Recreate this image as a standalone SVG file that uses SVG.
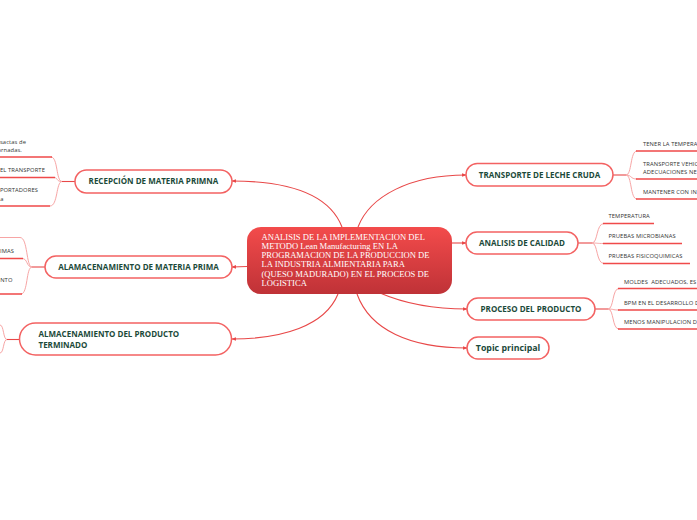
<svg xmlns="http://www.w3.org/2000/svg" width="697" height="520" viewBox="0 0 697 520">
<defs>
<linearGradient id="cg" x1="0" y1="0" x2="0" y2="1">
<stop offset="0" stop-color="#f34b4b"/>
<stop offset="1" stop-color="#bf3237"/>
</linearGradient>
<marker id="ar" viewBox="0 0 6 6" refX="5.5" refY="3" markerWidth="4" markerHeight="4" orient="auto">
<path d="M0,0.5 L6,3 L0,5.5 Z" fill="#e84848"/>
</marker>
<style>
.box{fill:#fff;stroke:#f36262;stroke-width:1.5}
.t{font-family:"Open Sans","Liberation Sans",sans-serif;font-weight:bold;font-size:8px;fill:#1c4a3a}
.s{font-family:"Open Sans","Liberation Sans",sans-serif;font-size:5.8px;fill:#333;letter-spacing:0.1px}
.ct{font-family:"Liberation Serif","DejaVu Serif",serif;font-size:8.6px;fill:#fff}
.m{fill:none;stroke:#e84848;stroke-width:1.1}
.c{fill:none;stroke:#f7a5a5;stroke-width:1}
.u{fill:none;stroke:#f04a4a;stroke-width:1.6}
</style>
</defs>
<rect width="697" height="520" fill="#fff"/>

<g id="connectors">
<path class="m" d="M342,227 C330,196 292,181 232,181" marker-end="url(#ar)"/>
<path class="m" d="M358,227 C370,196 410,175 466,175" marker-end="url(#ar)"/>
<path class="m" d="M247,266.5 L232,267" marker-end="url(#ar)"/>
<path class="m" d="M452,243 L466,243" marker-end="url(#ar)"/>
<path class="m" d="M338,294 C325,326 282,339 232,339" marker-end="url(#ar)"/>
<path class="m" d="M357,294 C370,330 410,348 467,348" marker-end="url(#ar)"/>
<path class="m" d="M380,293 C410,306 440,309 467,309" marker-end="url(#ar)"/>

<path class="m" d="M613,175 H626"/>
<path class="c" d="M626,175 C632,175 630,151 637,151"/>
<path class="c" d="M626,175 C632,175 630,179 637,179"/>
<path class="c" d="M626,175 C632,175 630,199 637,199"/>
<path class="u" d="M636,151 H697 M636,179 H697 M636,199 H697"/>

<path class="m" d="M578,243 H592"/>
<path class="c" d="M592,243 C598,243 596,223.5 604,223.5"/>
<path class="c" d="M592,243 C598,243 596,243.5 604,243.5"/>
<path class="c" d="M592,243 C598,243 596,263.5 604,263.5"/>
<path class="u" d="M603,223.5 H654 M603,243.5 H682 M603,263.5 H690"/>

<path class="m" d="M595,309 H608"/>
<path class="c" d="M608,309 C614,309 612,288.5 619,288.5"/>
<path class="c" d="M608,309 C614,309 612,310 619,310"/>
<path class="c" d="M608,309 C614,309 612,329 619,329"/>
<path class="u" d="M618,288.5 H697 M618,310 H697 M618,329 H697"/>

<path class="m" d="M75,181.5 H62"/>
<path class="c" d="M62,181.5 C56,181.5 58,157 51,157"/>
<path class="c" d="M62,181.5 C56,181.5 58,177.5 54,177.5"/>
<path class="c" d="M62,181.5 C56,181.5 58,206 50,206"/>
<path class="u" d="M0,157 H52 M0,177.5 H55 M0,206 H50"/>

<path class="m" d="M45,267 H32"/>
<path class="c" d="M32,267 C26,267 28,237.5 20,237.5 H0"/>
<path class="c" d="M32,267 C26,267 28,258.5 22,258.5"/>
<path class="c" d="M32,267 C26,267 28,294 21,294"/>
<path class="u" d="M0,258.5 H23 M0,294 H22"/>

<path class="m" d="M19,339.5 H7"/>
<path class="c" d="M7,339.5 C3,339.5 4,325 0,325"/>
<path class="c" d="M7,339.5 C3,339.5 4,353 0,353"/>
</g>

<g id="center">
<rect x="247" y="227" width="205" height="67" rx="14" fill="url(#cg)"/>
<text class="ct" x="261.5" y="239.5">ANALISIS DE LA IMPLEMENTACION DEL</text>
<text class="ct" x="261.5" y="248.8">METODO Lean Manufacturing EN LA</text>
<text class="ct" x="261.5" y="258.1">PROGRAMACION DE LA PRODUCCION DE</text>
<text class="ct" x="261.5" y="267.4">LA INDUSTRIA ALMIENTARIA PARA</text>
<text class="ct" x="261.5" y="276.7">(QUESO MADURADO) EN EL PROCEOS DE</text>
<text class="ct" x="261.5" y="286">LOGISTICA</text>
</g>

<g id="transporte">
<rect class="box" x="466" y="163.5" width="147" height="22.5" rx="11.25"/>
<text class="t" x="539.5" y="177.7" text-anchor="middle">TRANSPORTE DE LECHE CRUDA</text>
<text class="s" x="643" y="146">TENER LA TEMPERA</text>
<text class="s" x="643" y="165.5">TRANSPORTE VEHIC</text>
<text class="s" x="643" y="173.8">ADECUACIONES NE</text>
<text class="s" x="643" y="193.8">MANTENER CON IN</text>
</g>

<g id="calidad">
<rect class="box" x="466" y="232" width="112" height="22" rx="11"/>
<text class="t" x="522" y="245.9" text-anchor="middle">ANALISIS DE CALIDAD</text>
<text class="s" x="608.5" y="217.8">TEMPERATURA</text>
<text class="s" x="608.5" y="237.5">PRUEBAS MICROBIANAS</text>
<text class="s" x="608.5" y="257.5">PRUEBAS FISICOQUIMICAS</text>
</g>

<g id="proceso">
<rect class="box" x="467" y="298" width="128" height="22" rx="11"/>
<text class="t" x="531" y="311.9" text-anchor="middle">PROCESO DEL PRODUCTO</text>
<text class="s" x="624" y="283.8" xml:space="preserve">MOLDES  ADECUADOS, ES</text>
<text class="s" x="624" y="304.5">BPM EN EL DESARROLLO D</text>
<text class="s" x="624" y="323.8">MENOS MANIPULACION D</text>
</g>

<g id="topic">
<rect class="box" x="467" y="337" width="82" height="22" rx="11"/>
<text class="t" x="508" y="351.2" text-anchor="middle" style="font-size:8.8px">Topic principal</text>
</g>

<g id="recepcion">
<rect class="box" x="75" y="170" width="157" height="23" rx="11.5"/>
<text class="t" x="153.5" y="184.4" text-anchor="middle">RECEPCIÓN DE MATERIA PRIMNA</text>
<text class="s" x="26" y="143.8" text-anchor="end">esactas de</text>
<text class="s" x="22" y="152" text-anchor="end">ornadas.</text>
<text class="s" x="45" y="171.5" text-anchor="end">EL TRANSPORTE</text>
<text class="s" x="38" y="192" text-anchor="end">PORTADORES</text>
<text class="s" x="3.5" y="200.5" text-anchor="end">a</text>
</g>

<g id="alamacenamiento">
<rect class="box" x="45" y="256" width="187" height="22" rx="11"/>
<text class="t" x="138.5" y="269.9" text-anchor="middle">ALAMACENAMIENTO DE MATERIA PRIMA</text>
<text class="s" x="14" y="252.8" text-anchor="end">IMAS</text>
<text class="s" x="12.5" y="282" text-anchor="end">NTO</text>
</g>

<g id="almacenamiento-producto">
<rect class="box" x="19.5" y="323" width="212" height="32" rx="16"/>
<text class="t" x="38.5" y="337.3">ALMACENAMIENTO DEL PRODUCTO</text>
<text class="t" x="38.5" y="347.5">TERMINADO</text>
</g>
</svg>
